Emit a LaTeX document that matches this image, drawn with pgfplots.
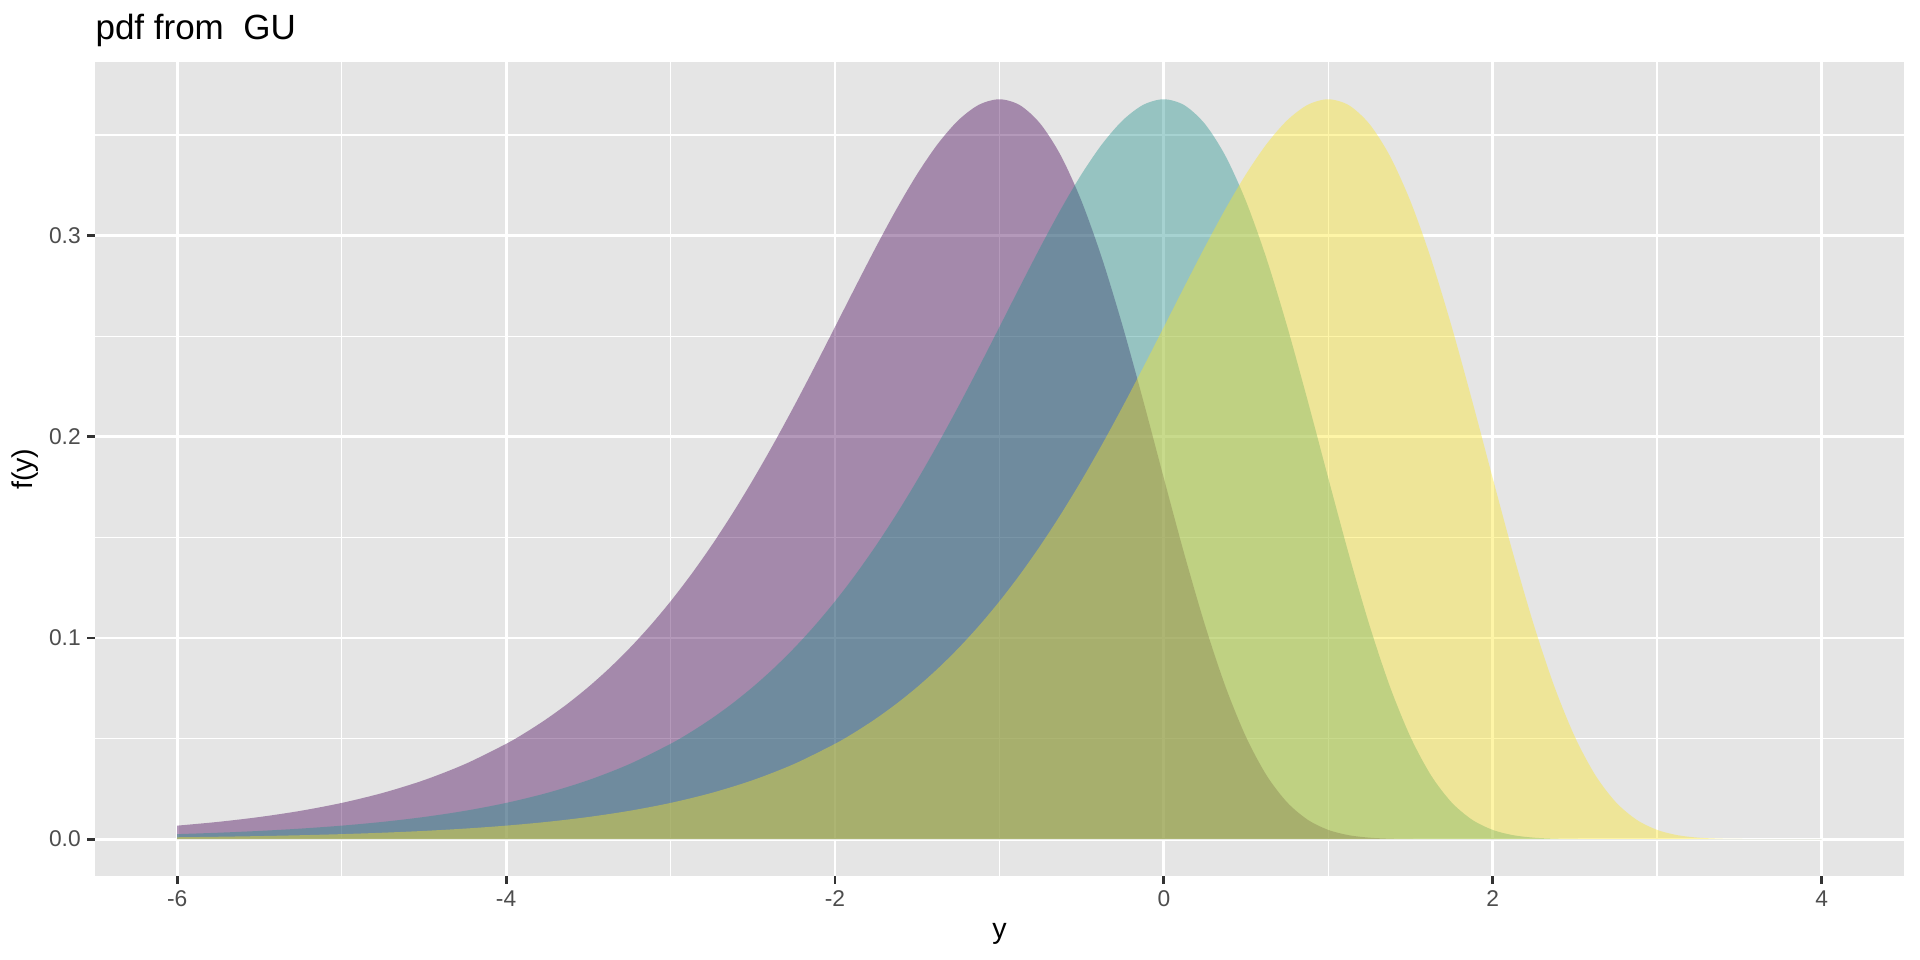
\documentclass[border=0pt]{standalone}
\usepackage{pgfplots}
\pgfplotsset{compat=1.18}
\usepackage{fontspec}
\setmainfont{Liberation Sans}
\definecolor{vpurple}{HTML}{440154}
\definecolor{vteal}{HTML}{21908C}
\definecolor{vyellow}{HTML}{FDE725}
\definecolor{panelbg}{HTML}{E5E5E5}
\definecolor{grey20}{HTML}{333333}
\definecolor{grey30}{HTML}{4D4D4D}

\pgfplotstableread{
y f
-6 0.006693
-5.75 0.008577
-5.5 0.010986
-5.25 0.014062
-5 0.017983
-4.75 0.022971
-4.5 0.029299
-4.25 0.037300
-4 0.047369
-3.875 0.053322
-3.75 0.059969
-3.625 0.067378
-3.5 0.075617
-3.375 0.084753
-3.25 0.094856
-3.125 0.105988
-3 0.118205
-2.875 0.131551
-2.75 0.146055
-2.625 0.161716
-2.5 0.178507
-2.375 0.196353
-2.25 0.215132
-2.125 0.234654
-2 0.254646
-1.875 0.274762
-1.75 0.294536
-1.625 0.313417
-1.5 0.330704
-1.375 0.345665
-1.25 0.357436
-1.125 0.365135
-1 0.367879
-0.875 0.364897
-0.75 0.355573
-0.625 0.339601
-0.5 0.317047
-0.375 0.288446
-0.25 0.254869
-0.125 0.217866
0 0.179374
0.125 0.141533
0.25 0.106420
0.375 0.075768
0.5 0.050707
0.625 0.031637
0.75 0.018232
0.875 0.009601
1 0.004566
1.125 0.001935
1.25 0.000718
1.375 0.000230
1.5 0.000062
1.75 0.0000025
2 0
3 0
4 0
}\gupurple

\pgfplotstableread{
y f
-6 0.002473
-5.75 0.003173
-5.5 0.004070
-5.25 0.005221
-5 0.006693
-4.75 0.008577
-4.5 0.010986
-4.25 0.014062
-4 0.017983
-3.75 0.022971
-3.5 0.029299
-3.25 0.037300
-3 0.047369
-2.875 0.053322
-2.75 0.059969
-2.625 0.067378
-2.5 0.075617
-2.375 0.084753
-2.25 0.094856
-2.125 0.105988
-2 0.118205
-1.875 0.131551
-1.75 0.146055
-1.625 0.161716
-1.5 0.178507
-1.375 0.196353
-1.25 0.215132
-1.125 0.234654
-1 0.254646
-0.875 0.274762
-0.75 0.294536
-0.625 0.313417
-0.5 0.330704
-0.375 0.345665
-0.25 0.357436
-0.125 0.365135
0 0.367879
0.125 0.364897
0.25 0.355573
0.375 0.339601
0.5 0.317047
0.625 0.288446
0.75 0.254869
0.875 0.217866
1 0.179374
1.125 0.141533
1.25 0.106420
1.375 0.075768
1.5 0.050707
1.625 0.031637
1.75 0.018232
1.875 0.009601
2 0.004566
2.125 0.001935
2.25 0.000718
2.375 0.000230
2.5 0.000062
2.75 0.0000025
3 0
4 0
}\guteal

\pgfplotstableread{
y f
-6 0.000911
-5.75 0.001170
-5.5 0.001501
-5.25 0.001926
-5 0.002473
-4.75 0.003173
-4.5 0.004070
-4.25 0.005221
-4 0.006693
-3.75 0.008577
-3.5 0.010986
-3.25 0.014062
-3 0.017983
-2.75 0.022971
-2.5 0.029299
-2.25 0.037300
-2 0.047369
-1.875 0.053322
-1.75 0.059969
-1.625 0.067378
-1.5 0.075617
-1.375 0.084753
-1.25 0.094856
-1.125 0.105988
-1 0.118205
-0.875 0.131551
-0.75 0.146055
-0.625 0.161716
-0.5 0.178507
-0.375 0.196353
-0.25 0.215132
-0.125 0.234654
0 0.254646
0.125 0.274762
0.25 0.294536
0.375 0.313417
0.5 0.330704
0.625 0.345665
0.75 0.357436
0.875 0.365135
1 0.367879
1.125 0.364897
1.25 0.355573
1.375 0.339601
1.5 0.317047
1.625 0.288446
1.75 0.254869
1.875 0.217866
2 0.179374
2.125 0.141533
2.25 0.106420
2.375 0.075768
2.5 0.050707
2.625 0.031637
2.75 0.018232
2.875 0.009601
3 0.004566
3.125 0.001935
3.25 0.000718
3.375 0.000230
3.5 0.000062
3.75 0.0000025
4 0
}\guyellow

\begin{document}
\begin{tikzpicture}
\path[use as bounding box] (0,0) rectangle (691.2pt,345.6pt);
\begin{axis}[
  at={(34.2pt,30.2pt)}, anchor=south west,
  scale only axis, width=651.2pt, height=293pt,
  xmin=-6.5, xmax=4.5, ymin=-0.0184, ymax=0.3863,
  axis background/.style={fill=panelbg},
  axis line style={draw=none},
  xtick={-6,-4,-2,0,2,4}, ytick={0,0.1,0.2,0.3},
  xticklabels={-6,-4,-2,0,2,4}, yticklabels={0.0,0.1,0.2,0.3},
  minor xtick={-5,-3,-1,1,3}, minor ytick={0.05,0.15,0.25,0.35},
  grid=both,
  major grid style={white, line width=1.07pt},
  minor grid style={white, line width=0.53pt},
  tick align=outside, xtick pos=lower, ytick pos=left,
  major tick length=2.75pt, minor tick length=0pt,
  tick style={grey20, line width=1.07pt},
  tick label style={font=\fontsize{8.2}{10}\selectfont, text=grey30},
  /pgf/number format/assume math mode=true,
  xticklabel style={inner sep=0pt, yshift=-2.2pt},
  yticklabel style={inner sep=0pt, xshift=-2.2pt},
  xlabel={y}, ylabel={f(y)},
  label style={font=\fontsize{10.3}{12}\selectfont, text=black},
  xlabel style={at={(axis description cs:0.5,0)}, anchor=base, yshift=-22.6pt, inner sep=0pt},
  ylabel style={at={(axis description cs:-0.0387,0.5)}, anchor=center, inner sep=0pt},
  clip=true,
]
\addplot[fill=vpurple, fill opacity=0.4, draw=none, smooth] table[x=y, y=f] {\gupurple} \closedcycle;
\addplot[fill=vteal, fill opacity=0.4, draw=none, smooth] table[x=y, y=f] {\guteal} \closedcycle;
\addplot[fill=vyellow, fill opacity=0.4, draw=none, smooth] table[x=y, y=f] {\guyellow} \closedcycle;
\end{axis}
\node[anchor=base west, inner sep=0pt, font=\fontsize{12.6}{15}\selectfont] at (34.2pt,331.2pt) {pdf from\ \ GU};
\end{tikzpicture}
\end{document}
